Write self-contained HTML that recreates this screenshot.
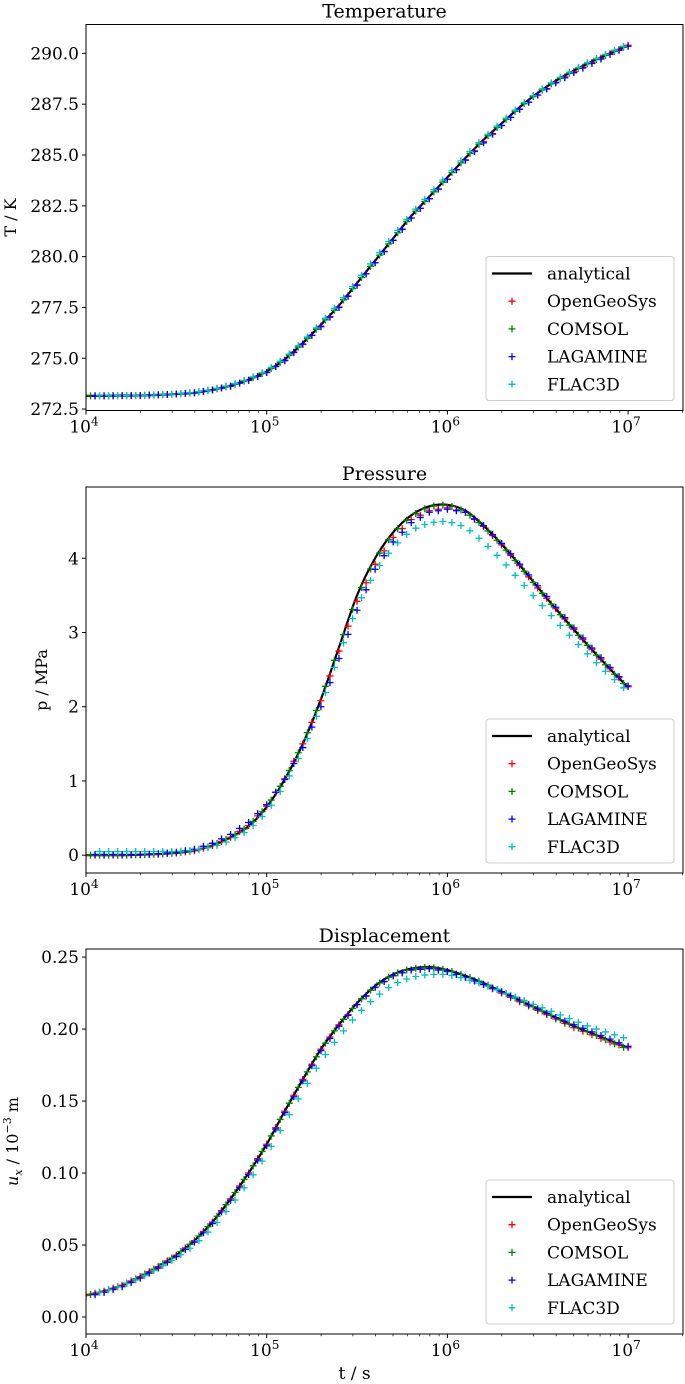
<!DOCTYPE html>
<html><head><meta charset="utf-8">
<style>
html,body{margin:0;padding:0;background:#fff;}
svg{display:block;font-family:"DejaVu Serif","Liberation Serif",serif;}
</style></head>
<body>
<svg id="fig" width="685" height="1384" viewBox="0 0 685 1384" xmlns="http://www.w3.org/2000/svg"></svg>
<script>
// shared time grid (log10 t)
const logT = [4.0,4.1,4.2,4.3,4.4,4.5,4.6,4.7,4.8,4.9,5.0,5.1,5.2,5.3,5.4,5.5,5.6,5.7,5.8,5.9,6.0,6.1,6.2,6.3,6.4,6.5,6.6,6.7,6.8,6.9,7.0];
const xTickLabels = ["4","5","6","7"];
// Temperature (K)
const tempAnalytical = [273.15,273.15,273.16,273.17,273.2,273.24,273.3,273.45,273.65,273.95,274.35,274.95,275.75,276.65,277.6,278.7,279.8,280.9,282.0,282.95,283.9,284.85,285.75,286.55,287.35,288.05,288.65,289.15,289.6,290.0,290.4];
const tempOGS = [273.15,273.15,273.16,273.17,273.2,273.24,273.3,273.44,273.63,273.92,274.3,274.88,275.68,276.58,277.52,278.6,279.7,280.8,281.9,282.85,283.8,284.75,285.65,286.45,287.25,287.95,288.58,289.1,289.55,289.98,290.4];
const tempCOMSOL = [273.15,273.15,273.16,273.17,273.2,273.24,273.3,273.45,273.65,273.95,274.35,274.95,275.75,276.65,277.6,278.7,279.8,280.9,282.0,282.95,283.9,284.85,285.75,286.55,287.35,288.05,288.65,289.15,289.6,290.0,290.4];
const tempLAGAMINE = [273.15,273.15,273.16,273.17,273.2,273.24,273.3,273.44,273.63,273.92,274.3,274.9,275.7,276.55,277.5,278.6,279.7,280.8,281.9,282.85,283.8,284.75,285.6,286.45,287.25,287.95,288.55,289.05,289.5,289.95,290.35];
const tempFLAC = [273.15,273.15,273.16,273.17,273.2,273.25,273.32,273.47,273.68,273.98,274.4,275.0,275.82,276.72,277.7,278.8,279.92,281.02,282.1,283.05,284.0,284.95,285.82,286.62,287.4,288.1,288.7,289.2,289.65,290.05,290.45];
// Pressure (MPa)
const presAnalytical = [0,0,0,0.005,0.015,0.03,0.06,0.13,0.24,0.39,0.65,1.02,1.5,2.1,2.8,3.5,4.0,4.35,4.58,4.7,4.72,4.64,4.44,4.19,3.91,3.61,3.32,3.04,2.77,2.51,2.26];
const presOGS = [0,0,0,0.005,0.015,0.03,0.06,0.13,0.24,0.4,0.66,1.03,1.5,2.08,2.75,3.42,3.92,4.28,4.52,4.64,4.68,4.62,4.43,4.18,3.9,3.6,3.32,3.04,2.77,2.51,2.27];
const presCOMSOL = [0,0,0,0.005,0.015,0.03,0.06,0.13,0.24,0.39,0.65,1.02,1.5,2.1,2.8,3.48,3.98,4.34,4.57,4.7,4.72,4.63,4.43,4.18,3.9,3.6,3.31,3.03,2.76,2.5,2.25];
const presLAGAMINE = [0.01,0.01,0.01,0.01,0.02,0.04,0.08,0.16,0.28,0.44,0.68,1.02,1.45,2.0,2.65,3.3,3.85,4.22,4.48,4.62,4.66,4.62,4.44,4.2,3.92,3.63,3.34,3.06,2.79,2.53,2.28];
const presFLAC = [0.05,0.05,0.05,0.05,0.05,0.05,0.07,0.11,0.2,0.34,0.58,0.95,1.42,2.02,2.7,3.35,3.82,4.15,4.38,4.48,4.5,4.42,4.22,3.98,3.7,3.43,3.16,2.9,2.65,2.42,2.2];
// Displacement (1e-3 m)
const dispAnalytical = [0.015,0.018,0.022,0.028,0.035,0.043,0.053,0.066,0.082,0.1,0.12,0.143,0.165,0.186,0.203,0.218,0.23,0.238,0.242,0.243,0.241,0.237,0.232,0.226,0.22,0.214,0.208,0.202,0.197,0.192,0.187];
const dispOGS = [0.015,0.018,0.022,0.028,0.035,0.043,0.053,0.066,0.082,0.1,0.12,0.143,0.165,0.186,0.203,0.217,0.229,0.237,0.241,0.242,0.24,0.236,0.231,0.225,0.219,0.213,0.207,0.201,0.196,0.191,0.187];
const dispCOMSOL = [0.015,0.018,0.022,0.028,0.035,0.043,0.053,0.066,0.082,0.1,0.12,0.143,0.165,0.186,0.203,0.218,0.23,0.238,0.242,0.243,0.241,0.237,0.232,0.226,0.22,0.214,0.208,0.202,0.197,0.191,0.186];
const dispLAGAMINE = [0.014,0.017,0.021,0.027,0.034,0.042,0.052,0.065,0.081,0.099,0.119,0.142,0.164,0.185,0.202,0.217,0.229,0.237,0.241,0.242,0.24,0.236,0.231,0.226,0.22,0.214,0.208,0.203,0.198,0.193,0.188];
const dispFLAC = [0.015,0.018,0.022,0.027,0.034,0.041,0.05,0.062,0.077,0.094,0.113,0.135,0.157,0.178,0.195,0.21,0.222,0.231,0.236,0.238,0.238,0.235,0.231,0.226,0.221,0.216,0.211,0.206,0.201,0.197,0.193];

const seriesNames = ["OpenGeoSys","COMSOL","LAGAMINE","FLAC3D"];
const seriesColors = ["#ff0000","#008000","#0000ff","#00bfbf"];
const seriesShift = [0,0.025,0.05,0.075];

const NS="http://www.w3.org/2000/svg";
const svg=document.getElementById('fig');
function mk(tag,attrs,parent){const e=document.createElementNS(NS,tag);for(const k in attrs)e.setAttribute(k,attrs[k]);(parent||svg).appendChild(e);return e;}

const X0=86,X1=683,XMIN=4,XMAX=7.304;
function sx(l){return X0+(l-XMIN)/(XMAX-XMIN)*(X1-X0);}

function interp(arr,l){
  const i=Math.min(Math.floor((l-4)/0.1+1e-9),arr.length-2);
  const f=(l-logT[i])/0.1;
  return arr[i]+(arr[i+1]-arr[i])*f;
}
// smooth path through points (Catmull-Rom)
function smoothPath(pts){
  let d='M'+pts[0][0].toFixed(2)+' '+pts[0][1].toFixed(2);
  for(let i=0;i<pts.length-1;i++){
    const p0=pts[Math.max(0,i-1)],p1=pts[i],p2=pts[i+1],p3=pts[Math.min(pts.length-1,i+2)];
    const c1=[p1[0]+(p2[0]-p0[0])/6,p1[1]+(p2[1]-p0[1])/6];
    const c2=[p2[0]-(p3[0]-p1[0])/6,p2[1]-(p3[1]-p1[1])/6];
    d+=`C${c1[0].toFixed(2)} ${c1[1].toFixed(2)} ${c2[0].toFixed(2)} ${c2[1].toFixed(2)} ${p2[0].toFixed(2)} ${p2[1].toFixed(2)}`;
  }
  return d;
}

function panel(cfg){
  const g=mk('g',{});
  
  
  const top=cfg.top,bot=cfg.top+cfg.h;
  const sy=v=>bot-(v-cfg.ymin)/(cfg.ymax-cfg.ymin)*(bot-top);
  const t=mk('text',{x:(X0+X1)/2,y:top-7,'text-anchor':'middle','font-size':19,fill:'#000'},g);
  t.textContent=cfg.title;
  
  const cid='clip-'+cfg.name;
  const cp=mk('clipPath',{id:cid},g);mk('rect',{x:X0,y:top,width:X1-X0,height:bot-top},cp);
  const plot=mk('g',{'clip-path':'url(#'+cid+')'},g);
  
  const pts=logT.map((l,i)=>[sx(l),sy(cfg.analytical[i])]);
  const ln=mk('path',{d:smoothPath(pts),fill:'none',stroke:'#000','stroke-width':2.2},plot);
  
  cfg.series.forEach((arr,si)=>{
    const sg=mk('g',{stroke:seriesColors[si],'stroke-width':1.3},plot);
    
    
    for(let i=0;i<logT.length;i++){
      for(let k=0;k<2;k++){
        const l=logT[i]+seriesShift[si]+k*0.05;
        if(l>7.0001) continue;
        const v=interp(arr,l);
        const x=sx(l),y=sy(v);
        mk('path',{d:`M${x-3.5} ${y}H${x+3.5}M${x} ${y-3.5}V${y+3.5}`},sg);
      }
    }
  });
  const fr=mk('rect',{x:X0,y:top,width:X1-X0,height:bot-top,fill:'none',stroke:'#000','stroke-width':1},g);
  
  const xa=mk('g',{},g);
  
  for(let dcd=4;dcd<=7;dcd++){
    for(let m=1;m<10;m++){
      const l=dcd+Math.log10(m);
      if(l>XMAX) break;
      const x=sx(l);
      mk('line',{x1:x,x2:x,y1:bot,y2:bot+(m===1?4:2.2),stroke:'#000','stroke-width':m===1?1:0.7},xa);
    }
  }
  xTickLabels.forEach(s=>{
    const x=sx(+s);
    const tx=mk('text',{x:x-2,y:bot+22,'text-anchor':'middle','font-size':17,fill:'#000'},xa);
    tx.textContent='10';
    const sp=mk('tspan',{dy:-7,'font-size':12},tx);sp.textContent=s;
  });
  if(cfg.xlabel){
    const xl=mk('text',{x:(X0+X1)/2-30,y:bot+45,'text-anchor':'middle','font-size':17,fill:'#000'},g);
    xl.textContent=cfg.xlabel;
    
  }
  const ya=mk('g',{},g);
  
  cfg.yticks.forEach((v,i)=>{
    const y=sy(v);
    mk('line',{x1:X0-4,x2:X0,y1:y,y2:y,stroke:'#000','stroke-width':1},ya);
    const tx=mk('text',{x:X0-7,y:y+6,'text-anchor':'end','font-size':17,fill:'#000'},ya);
    tx.textContent=cfg.ytickLabels[i];
  });
  const yl=mk('text',{transform:`translate(${cfg.ylx},${(top+bot)/2}) rotate(-90)`,'text-anchor':'middle','font-size':16,fill:'#000'},g);
  
  if(cfg.name==='displacement'){
    const a=mk('tspan',{'font-style':'italic'},yl);a.textContent='u';
    const b=mk('tspan',{'font-style':'italic','font-size':11,dy:4},yl);b.textContent='x';
    const c=mk('tspan',{dy:-4},yl);c.textContent=' / 10';
    const e=mk('tspan',{dy:-7,'font-size':11},yl);e.textContent='−3';
    const f=mk('tspan',{dy:7},yl);f.textContent=' m';
  } else yl.textContent=cfg.ylabel;
  const lg=mk('g',{},g);
  
  const lx=486,ly=bot-154;
  mk('rect',{x:lx,y:ly,width:188,height:144,rx:3,fill:'#fff','fill-opacity':0.85,stroke:'#ccc','stroke-width':1},lg);
  const rows=['analytical'].concat(seriesNames);
  rows.forEach((nm,i)=>{
    const ry=ly+17+i*27.7;
    const eg=mk('g',{},lg);
    
    if(i===0) mk('line',{x1:492,x2:532,y1:ry,y2:ry,stroke:'#000','stroke-width':2.2},eg);
    else mk('path',{d:`M${508.5} ${ry}H${515.5}M512 ${ry-3.5}V${ry+3.5}`,stroke:seriesColors[i-1],'stroke-width':1.3},eg);
    const tx=mk('text',{x:547,y:ry+6,'font-size':17,fill:'#000'},eg);tx.textContent=nm;
  });
}

panel({name:'temperature',title:'Temperature',top:24.5,h:386,ymin:272.43,ymax:291.42,
  yticks:[272.5,275,277.5,280,282.5,285,287.5,290],ytickLabels:["272.5","275.0","277.5","280.0","282.5","285.0","287.5","290.0"],
  ylabel:'T / K',ylx:16,analytical:tempAnalytical,series:[tempOGS,tempCOMSOL,tempLAGAMINE,tempFLAC]});
panel({name:'pressure',title:'Pressure',top:487,h:386,ymin:-0.24,ymax:4.96,
  yticks:[0,1,2,3,4],ytickLabels:["0","1","2","3","4"],
  ylabel:'p / MPa',ylx:47,analytical:presAnalytical,series:[presOGS,presCOMSOL,presLAGAMINE,presFLAC]});
panel({name:'displacement',title:'Displacement',top:949,h:385,ymin:-0.0118,ymax:0.2556,
  yticks:[0,0.05,0.1,0.15,0.2,0.25],ytickLabels:["0.00","0.05","0.10","0.15","0.20","0.25"],
  ylabel:'',ylx:18,analytical:dispAnalytical,series:[dispOGS,dispCOMSOL,dispLAGAMINE,dispFLAC],xlabel:'t / s'});
</script>
</body></html>
